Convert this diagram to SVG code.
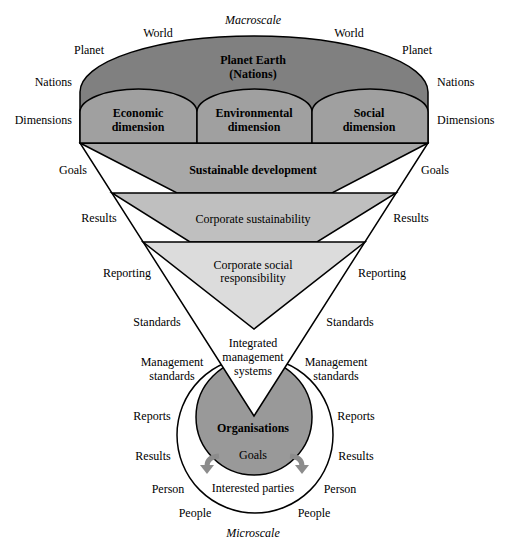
<svg xmlns="http://www.w3.org/2000/svg" width="511" height="550" viewBox="0 0 511 550">
<style>
text{font-family:"Liberation Serif","Times New Roman",serif;font-size:12px;fill:#000}
.c{text-anchor:middle}
.e{text-anchor:end}
.b{font-weight:bold}
.i{font-style:italic}
.ln{stroke:#000;stroke-width:1.5;stroke-linejoin:miter}
</style>
<rect width="511" height="550" fill="#fff"/>
<g id="interested-parties">
<circle cx="255" cy="435" r="78" fill="#fff" class="ln"/>
</g>
<g id="organisations">
<circle cx="254" cy="417" r="58" fill="#999" class="ln"/>
</g>
<g id="integrated-management">
<polygon points="80,143 428,143 254,416" fill="#fff" class="ln"/>
</g>
<g id="sustainable-development">
<polygon points="80,143 428,143 332,193 177,193" fill="#a8a8a8" class="ln"/>
</g>
<g id="corporate-sustainability">
<polygon points="112,193 396,193 317,242 190,242" fill="#bfbfbf" class="ln"/>
</g>
<g id="csr">
<polygon points="143,242 365,242 254,329" fill="#dcdcdc" class="ln"/>
</g>
<g id="planet-earth">
<path d="M80,143 L80,92 A174,56 0 0 1 428,92 L428,143 Z" fill="#808080" class="ln"/>
</g>
<g id="economic">
<path d="M80,143 L80,112 A58.5,23 0 0 1 197,112 L197,143 Z" fill="#a0a0a0" class="ln"/>
</g>
<g id="environmental">
<path d="M197,143 L197,112 A57.5,23 0 0 1 312,112 L312,143 Z" fill="#a0a0a0" class="ln"/>
</g>
<g id="social">
<path d="M312,143 L312,112 A58,23 0 0 1 428,112 L428,143 Z" fill="#a0a0a0" class="ln"/>
</g>
<g id="connectors">
<path d="M219,456 Q207,457 207,466" fill="none" stroke="#8c8c8c" stroke-width="5"/>
<polygon points="200,465 214,465 207,474" fill="#8c8c8c"/>
<path d="M290,456 Q302,457 302,466" fill="none" stroke="#8c8c8c" stroke-width="5"/>
<polygon points="295,465 309,465 302,474" fill="#8c8c8c"/>
</g>
<g id="labels">
<text x="253" y="24" class="c i">Macroscale</text>
<text x="158" y="37" class="c">World</text>
<text x="349" y="37" class="c">World</text>
<text x="89" y="54" class="c">Planet</text>
<text x="417" y="54" class="c">Planet</text>
<text x="72" y="86" class="e">Nations</text>
<text x="437" y="86">Nations</text>
<text x="72" y="124" class="e">Dimensions</text>
<text x="437" y="124">Dimensions</text>
<text x="253" y="64" class="c b">Planet Earth</text>
<text x="253" y="78" class="c b">(Nations)</text>
<text x="138" y="117" class="c b">Economic</text>
<text x="138" y="131" class="c b">dimension</text>
<text x="254" y="117" class="c b">Environmental</text>
<text x="254" y="131" class="c b">dimension</text>
<text x="369" y="117" class="c b">Social</text>
<text x="369" y="131" class="c b">dimension</text>
<text x="253" y="174" class="c b">Sustainable development</text>
<text x="73" y="174" class="c">Goals</text>
<text x="435" y="174" class="c">Goals</text>
<text x="253" y="223" class="c">Corporate sustainability</text>
<text x="99" y="222" class="c">Results</text>
<text x="411" y="222" class="c">Results</text>
<text x="253" y="269" class="c">Corporate social</text>
<text x="253" y="282" class="c">responsibility</text>
<text x="127" y="277" class="c">Reporting</text>
<text x="382" y="277" class="c">Reporting</text>
<text x="157" y="326" class="c">Standards</text>
<text x="350" y="326" class="c">Standards</text>
<text x="253" y="347" class="c">Integrated</text>
<text x="253" y="361" class="c">management</text>
<text x="253" y="375" class="c">systems</text>
<text x="172" y="366" class="c">Management</text>
<text x="172" y="380" class="c">standards</text>
<text x="336" y="366" class="c">Management</text>
<text x="336" y="380" class="c">standards</text>
<text x="152" y="420" class="c">Reports</text>
<text x="356" y="420" class="c">Reports</text>
<text x="253" y="432" class="c b">Organisations</text>
<text x="253" y="459" class="c">Goals</text>
<text x="153" y="460" class="c">Results</text>
<text x="356" y="460" class="c">Results</text>
<text x="168" y="493" class="c">Person</text>
<text x="340" y="493" class="c">Person</text>
<text x="253" y="492" class="c">Interested parties</text>
<text x="195" y="517" class="c">People</text>
<text x="314" y="517" class="c">People</text>
<text x="253" y="537" class="c i">Microscale</text>
</g>
</svg>
